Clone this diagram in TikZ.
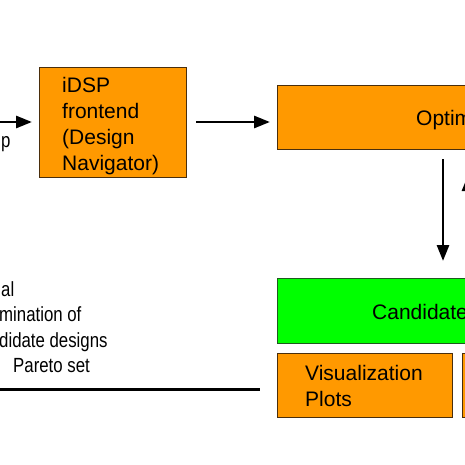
\documentclass[tikz,border=0pt]{standalone}
\usepackage{fontspec}
\setmainfont{Liberation Sans}
\newfontfamily\narrowfont{Liberation Sans}[FakeStretch=0.82]
\usetikzlibrary{arrows.meta}
\definecolor{boxorange}{HTML}{FF9900}
\definecolor{boxgreen}{HTML}{00FF00}
\definecolor{orangeedge}{HTML}{4A2E0C}
\definecolor{greenedge}{HTML}{1F5A1F}
\begin{document}
\begin{tikzpicture}[x=1pt,y=-1pt,
  obox/.style={draw=orangeedge,fill=boxorange,line width=1.1pt,rectangle,inner sep=0pt,anchor=north west},
  gbox/.style={draw=greenedge,fill=boxgreen,line width=1.1pt,rectangle,inner sep=0pt,anchor=north west},
  btext/.style={font=\fontsize{21}{26}\selectfont,anchor=base west,inner sep=0pt},
  ntext/.style={font=\narrowfont\fontsize{20.5}{25}\selectfont,anchor=base west,inner sep=0pt},
  flow/.style={line width=2.8pt,-{Triangle[length=16pt,width=12pt]}}]
\useasboundingbox (0,0) rectangle (465,465);
\fill[white] (0,0) rectangle (465,465);
% boxes
\node[obox,minimum width=147pt,minimum height=110pt] (idsp) at (39,67) {};
\node[obox,minimum width=323pt,minimum height=64pt] (optim) at (277,85) {};
\node[gbox,minimum width=323pt,minimum height=65pt] (cand) at (277,278) {};
\node[obox,minimum width=175pt,minimum height=64pt] (vis) at (277,353) {};
\node[obox,minimum width=138pt,minimum height=64pt] (next) at (462,353) {};
% texts
\node[btext] (t1) at (62,93) {iDSP};
\node[btext] (t2) at (62,119) {frontend};
\node[btext] (t3) at (62,145) {(Design};
\node[btext] (t4) at (62,171) {Navigator)};
\node[btext] (to) at (416,126) {Optim};
\node[btext] (tc) at (372,319) {Candidate};
\node[btext] (tv1) at (305,380) {Visualization};
\node[btext] (tv2) at (305,406) {Plots};
\node[ntext] (tp) at (1,147) {p};
\node[ntext] (l1) at (1,296) {al};
\node[ntext] (l2) at (-1,321) {mination of};
\node[ntext] (l3) at (-1,347) {didate designs};
\node[ntext] (l4) at (13,372) {Pareto set};
% connectors
\coordinate (in) at (0,122);
\coordinate (dx) at (443,0);
\coordinate (ux) at (468,0);
\draw[flow,shorten >=7pt] (in) -- (in -| idsp.west);
\draw[flow,shorten <=9pt,shorten >=7pt] (in -| idsp.east) -- (in -| optim.west);
\draw[flow,shorten <=9pt,shorten >=17pt] (optim.south -| dx) -- (cand.north -| dx);
\draw[flow,shorten <=17pt,shorten >=25pt] (cand.north -| ux) -- (optim.south -| ux);
% rule line
\coordinate (r1) at (0,389);
\coordinate (r2) at (260,389);
\draw[line width=3pt] (r1) -- (r2);
\end{tikzpicture}
\end{document}
